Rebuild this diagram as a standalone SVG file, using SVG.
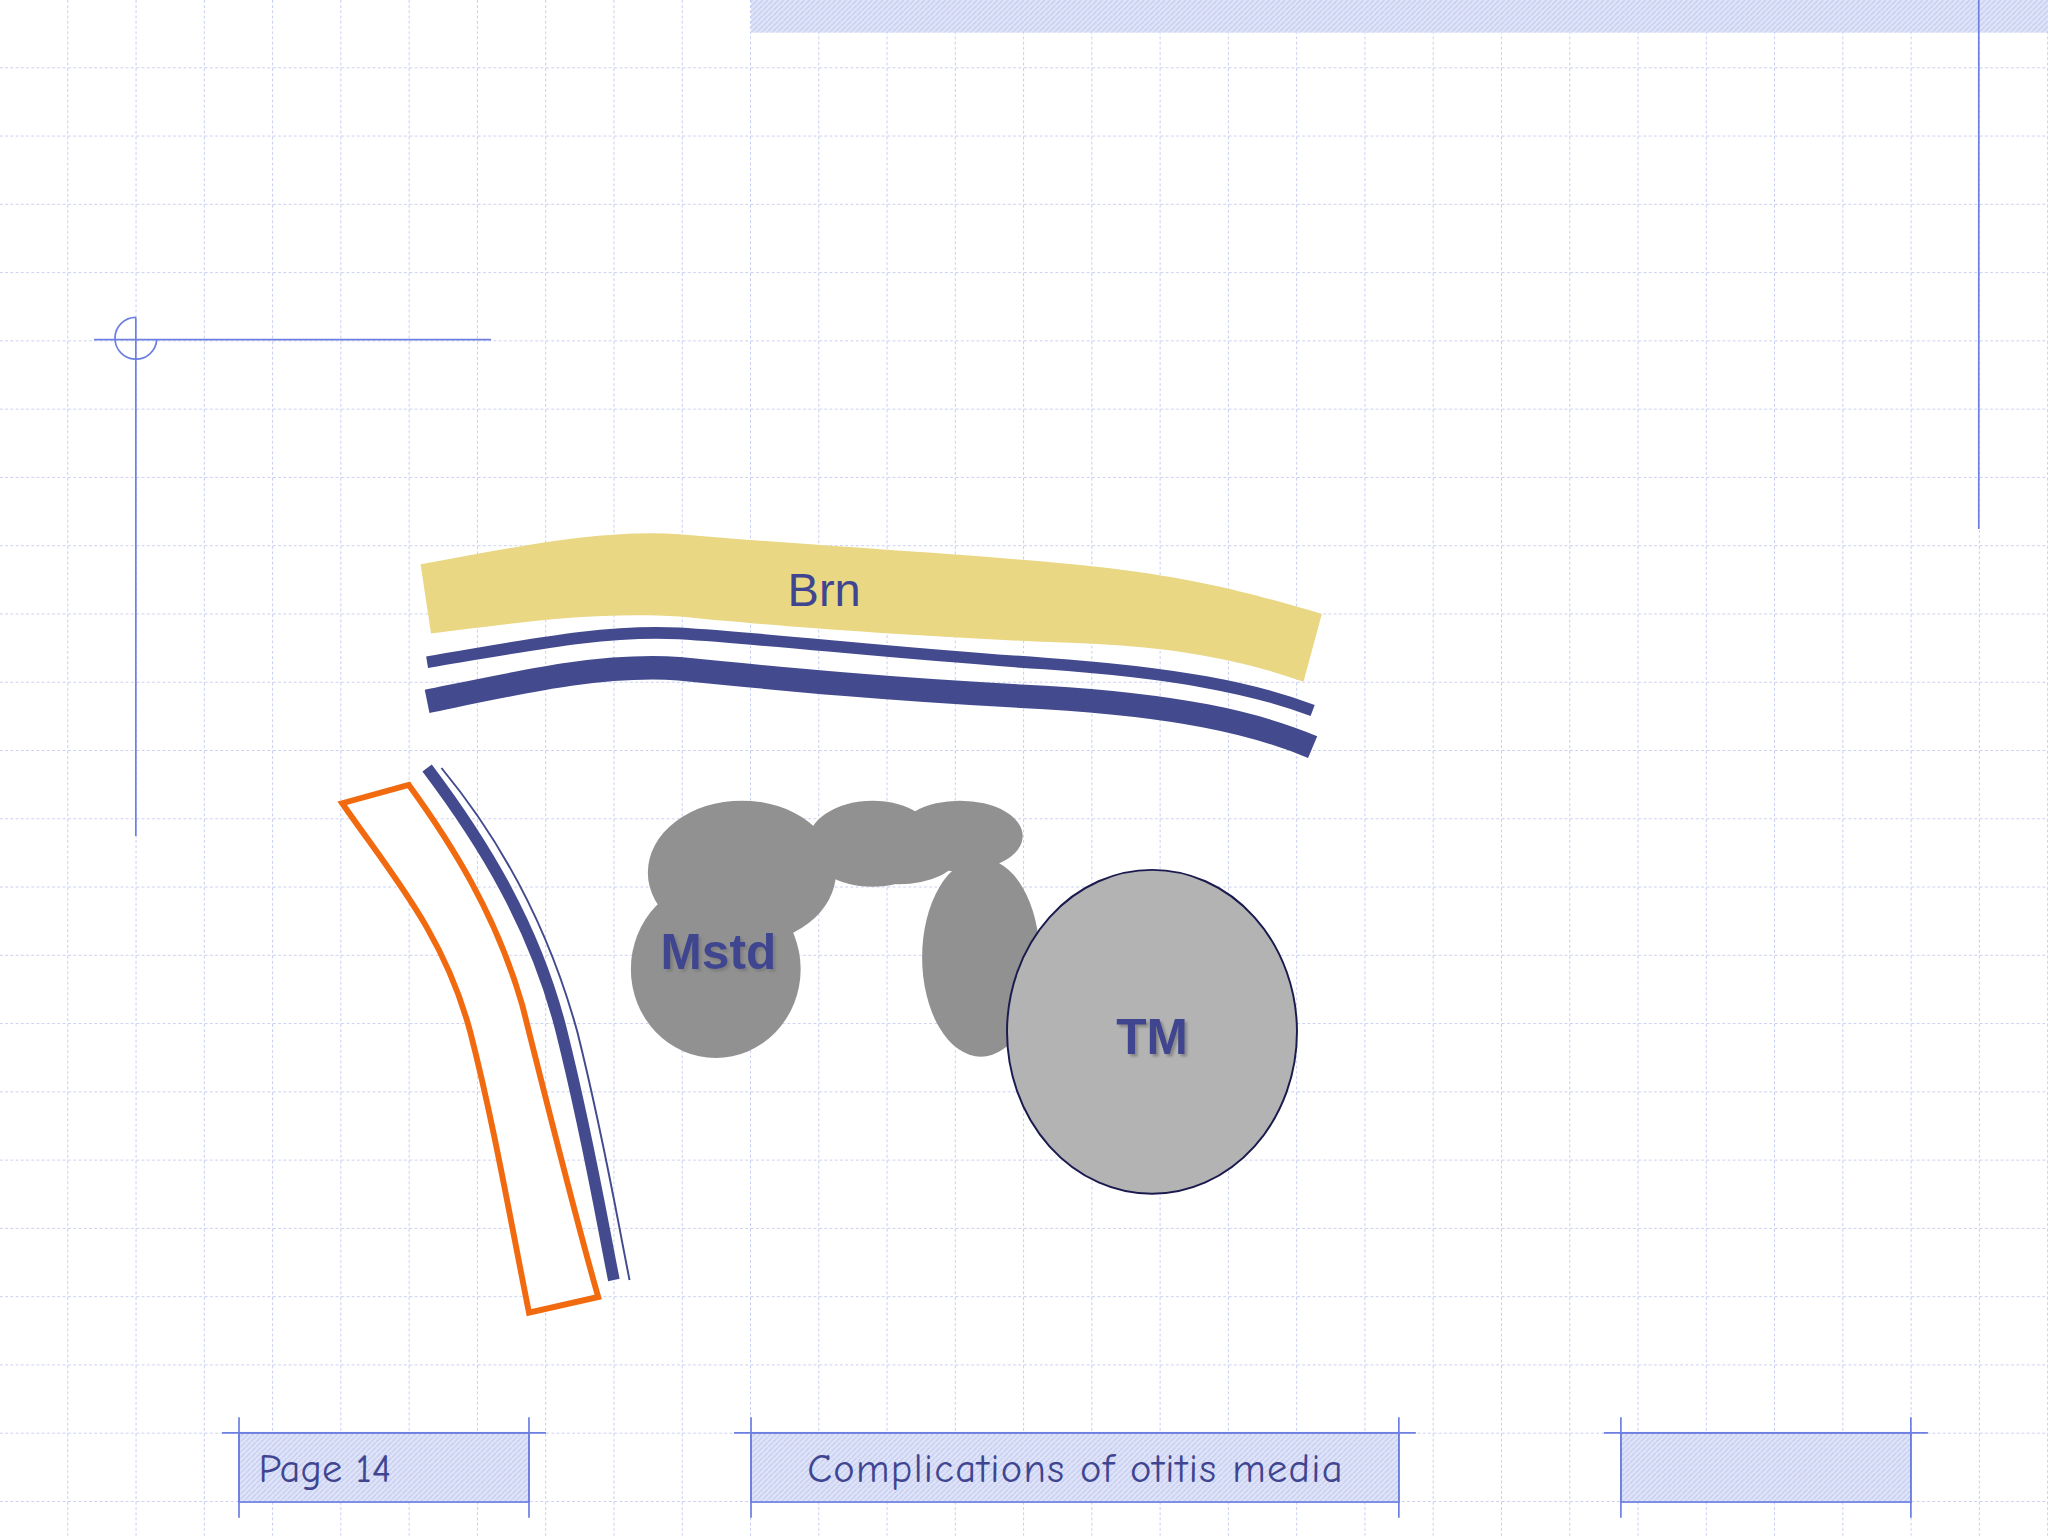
<svg xmlns="http://www.w3.org/2000/svg" width="2048" height="1536" viewBox="0 0 2048 1536">
<defs>
<pattern id="grid" width="52.27" height="52.27" patternUnits="userSpaceOnUse" x="0" y="0">
<path d="M52.27 0V52.27M0 52.27H52.27" fill="none" stroke="#b4bcec" stroke-width="1.2" stroke-dasharray="2,2"/>
</pattern>
<pattern id="hatch" width="4" height="4" patternUnits="userSpaceOnUse">
<rect width="4" height="4" fill="#dfe4f8"/><path d="M0 4L4 0" stroke="#c3cbef" stroke-width="1"/>
</pattern>
<filter id="sh"><feDropShadow dx="2" dy="2" stdDeviation="1" flood-color="#777" flood-opacity="0.7"/></filter>
</defs>
<style>
.ln{stroke:#6d7fe0;stroke-width:1.3;fill:none}
.box{fill:url(#hatch);stroke:#6d7fe0;stroke-width:1.3}
.ft{font-family:"Comic Neue","Liberation Sans",sans-serif;font-size:31px;fill:#3f4590}
.lab{font-family:"Liberation Sans",Arial,sans-serif;fill:#3f4590}
</style>
<g transform="scale(1.30612)">
<rect width="1568" height="1176" fill="#fff"/>
<rect width="1568" height="1176" fill="url(#grid)"/>
<g id="frame">
<rect x="575" y="0" width="993" height="25" fill="url(#hatch)"/>
<line class="ln" x1="1515" y1="0" x2="1515" y2="405"/>
<line class="ln" x1="72" y1="260" x2="376" y2="260"/>
<line class="ln" x1="104" y1="243" x2="104" y2="640"/>
<path class="ln" d="M104 243A16 16 0 1 0 120 260"/>
</g>
<g id="footer">
<rect class="box" x="183" y="1097" width="222" height="53"/>
<line class="ln" x1="170" y1="1097" x2="418" y2="1097"/><line class="ln" x1="183" y1="1085" x2="183" y2="1162"/><line class="ln" x1="405" y1="1085" x2="405" y2="1162"/>
<text class="ft" x="198" y="1135">Page 14</text>
<rect class="box" x="575" y="1097" width="496" height="53"/>
<line class="ln" x1="562" y1="1097" x2="1084" y2="1097"/><line class="ln" x1="575" y1="1085" x2="575" y2="1162"/><line class="ln" x1="1071" y1="1085" x2="1071" y2="1162"/>
<text class="ft" x="823" y="1135" text-anchor="middle" textLength="410" lengthAdjust="spacing">Complications of otitis media</text>
<rect class="box" x="1241" y="1097" width="222" height="53"/>
<line class="ln" x1="1228" y1="1097" x2="1476" y2="1097"/><line class="ln" x1="1241" y1="1085" x2="1241" y2="1162"/><line class="ln" x1="1463" y1="1085" x2="1463" y2="1162"/>
</g>
<g id="brain">
<path d="M322 432C400 418 460 405 520 409C650 420 760 425 850 435C930 445 970 458 1012 470L998 522C950 505 900 496 840 493C700 488 580 478 520 472C450 468 390 478 330 485Z" fill="#e9d784"/>
<text class="lab" x="631" y="464" font-size="36" text-anchor="middle">Brn</text>
</g>
<g id="dura">
<path d="M327 507C400 495 460 482 520 485C600 490 680 500 800 508C900 515 960 527 1005 544" fill="none" stroke="#434a8e" stroke-width="9"/>
<path d="M327 537C400 522 460 508 520 512C600 520 680 528 800 534C900 540 960 553 1005 572" fill="none" stroke="#434a8e" stroke-width="18"/>
</g>
<g id="sinus">
<path d="M262 615L313 601C345 645 380 700 400 770C420 850 440 930 458 993L405 1005C390 930 378 860 360 790C340 715 300 670 262 615Z" fill="#fff" stroke="#f26a10" stroke-width="4.5"/>
<path d="M327 588C370 645 410 710 430 790C450 870 460 930 470 980" fill="none" stroke="#434a8e" stroke-width="9"/>
<path d="M338 588C385 645 420 710 442 790C462 870 472 930 482 980" fill="none" stroke="#434a8e" stroke-width="1.5"/>
</g>
<g id="mastoid">
<g fill="#919191">
<ellipse cx="548" cy="742" rx="65" ry="68"/>
<ellipse cx="568" cy="668" rx="72" ry="55"/>
<ellipse cx="668" cy="646" rx="50" ry="33"/>
<ellipse cx="735" cy="640" rx="48" ry="27"/>
<ellipse cx="688" cy="655" rx="45" ry="22"/>
<ellipse cx="751" cy="733" rx="45" ry="76"/>
</g>
<text class="lab" x="550" y="742" font-size="38" font-weight="bold" text-anchor="middle" filter="url(#sh)">Mstd</text>
</g>
<g id="tm">
<ellipse cx="882" cy="790" rx="111" ry="124" fill="#b3b3b3" stroke="#1a1a4e" stroke-width="1.5"/>
<text class="lab" x="882" y="807" font-size="38" font-weight="bold" text-anchor="middle" filter="url(#sh)">TM</text>
</g>
</g>
</svg>
